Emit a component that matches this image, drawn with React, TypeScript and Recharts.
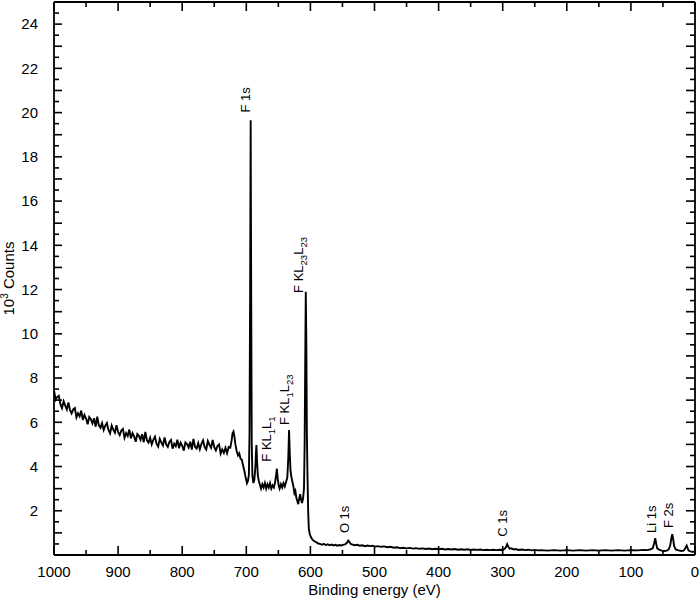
import { LineChart, Line, XAxis, YAxis, ReferenceDot, Label } from 'recharts'

// XPS survey spectrum: [binding energy (eV), 10^3 counts]
const backgroundHigh: [number, number][] = [
  [1000, 7.45], [997.5, 7.02], [995, 7.15], [992.5, 7.2], [990, 6.82], [987.5, 6.64], [985, 6.95], [982.5, 6.75],
  [980, 6.58], [977.5, 6.9], [975, 6.55], [972.5, 6.4], [970, 6.58], [967.5, 6.64], [965, 6.22], [962.5, 6.41],
  [960, 6.27], [957.5, 6.53], [955, 6.11], [952.5, 6.33], [950, 6.17], [947.5, 5.91], [945, 6.24], [942.5, 6.14],
  [940, 5.95], [937.5, 6.18], [935, 5.8], [932.5, 6.25], [930, 5.86], [927.5, 5.75], [925, 5.96], [922.5, 5.65],
  [920, 5.85], [917.5, 5.97], [915, 5.65], [912.5, 5.5], [910, 5.85], [907.5, 5.67], [905, 5.53], [902.5, 5.87],
  [900, 5.55], [897.5, 5.42], [895, 5.63], [892.5, 5.7], [890, 5.3], [887.5, 5.51], [885, 5.38], [882.5, 5.67],
  [880, 5.27], [877.5, 5.51], [875, 5.36], [872.5, 5.12], [870, 5.47], [867.5, 5.39], [865, 5.21], [862.5, 5.46],
  [860, 5.1], [857.5, 5.56], [855, 5.18], [852.5, 5.08], [850, 5.3], [847.5, 5.0], [845, 5.21], [842.5, 5.35],
  [840, 5.03], [837.5, 4.9], [835, 5.25], [832.5, 5.08], [830, 4.95], [827.5, 5.31], [825, 5.0], [822.5, 4.89],
  [820, 5.11], [817.5, 5.2], [815, 4.81], [812.5, 5.03], [810, 4.92], [807.5, 5.21], [805, 4.83], [802.5, 5.08],
  [800, 4.95], [797.5, 4.72], [795, 5.09], [792.5, 5.02], [790, 4.86], [787.5, 5.12], [785, 4.77], [782.5, 5.25],
  [780, 4.89], [777.5, 4.81], [775, 5.06], [772.5, 4.78], [770, 5.02], [767.5, 5.18], [765, 4.88], [762.5, 4.77],
  [760, 5.15], [757.5, 4.98], [755, 4.85], [752.5, 5.2], [750, 4.87], [747.5, 4.73], [745, 4.93], [742.5, 5.0],
  [740, 4.58], [737.5, 4.77], [735, 4.62], [732.5, 4.85], [730, 4.6], [727.5, 4.88],
]

const fluorineRegion: [number, number][] = [
  [725, 4.85], [723, 5.15], [721.5, 5.5], [720, 5.58], [718.5, 5.35], [717, 5.0], [715, 4.7], [713, 4.5],
  [711, 4.6], [709, 4.35], [707, 4.3], [705, 4.05], [703, 3.8], [701, 3.5], [699, 3.25], [697.5, 3.35],
  [696, 3.6], [695, 5.5], [694, 12], [693.2, 19.65], [692.4, 12], [691.5, 5], [690.5, 3.6], [689, 3.25],
  [687.5, 3.4], [686, 3.9], [685, 4.6], [684.2, 4.97], [683.3, 4.3], [682, 3.6], [680.5, 3.35], [679, 3.2],
  [677, 3.0], [675, 3.2], [673, 3.05], [671, 3.25], [669, 3.0], [667, 3.2], [665, 3.05], [663, 3.25],
  [661, 3.0], [659, 3.15], [657, 3.05], [655, 3.3], [653.5, 3.6], [652.3, 3.9], [651, 3.45], [649.5, 3.15],
  [648, 3.0], [646, 3.2], [644, 3.05], [642, 3.25], [640, 3.1], [638, 3.3], [636, 3.5], [634.5, 4.4],
  [633.3, 5.65], [632.2, 4.6], [631, 3.8], [629.5, 3.5], [628, 3.3], [626.5, 3.1], [625, 2.8], [623.5, 2.9],
  [622, 2.6], [620.5, 2.45], [619, 2.3], [617.5, 2.55], [616, 2.75], [614.5, 2.5], [613, 2.35], [611.5, 2.55],
  [610, 3.0], [609, 5], [608, 9], [607.2, 11.9], [606.3, 9.5], [605.5, 5.5], [604.5, 3.5], [603.5, 2.0],
  [602.5, 1.2], [601, 0.95], [599, 0.8], [597, 0.7], [594, 0.62], [591, 0.58], [588, 0.52],
]

const backgroundLow: [number, number][] = [
  [585, 0.5], [582, 0.46], [579, 0.5], [576, 0.45], [573, 0.48], [570, 0.44], [567, 0.47], [564, 0.43],
  [561, 0.46], [558, 0.42], [555, 0.45], [552, 0.43], [549, 0.46], [546, 0.48], [543, 0.55], [541, 0.65],
  [539, 0.58], [537, 0.5], [534, 0.47], [531, 0.44], [527, 0.46], [523, 0.42], [519, 0.44], [515, 0.4],
  [511, 0.43], [507, 0.4], [503, 0.42], [499, 0.38], [495, 0.4], [490, 0.37], [485, 0.39], [480, 0.35],
  [475, 0.37], [470, 0.33], [465, 0.35], [460, 0.31], [455, 0.33], [450, 0.3], [445, 0.32], [440, 0.29],
  [435, 0.31], [430, 0.28], [425, 0.3], [420, 0.27], [415, 0.29], [410, 0.26], [405, 0.28], [400, 0.26],
  [395, 0.28], [390, 0.25], [385, 0.27], [380, 0.25], [375, 0.27], [370, 0.24], [365, 0.26], [360, 0.24],
  [355, 0.26], [350, 0.23], [345, 0.25], [340, 0.23], [335, 0.25], [330, 0.22], [325, 0.24], [320, 0.22],
  [315, 0.24], [310, 0.22], [305, 0.24], [300, 0.23], [297, 0.28], [295, 0.35], [293, 0.49], [291, 0.36],
  [289, 0.28], [286, 0.3], [283, 0.25], [280, 0.27], [275, 0.23], [270, 0.25], [265, 0.22], [260, 0.24],
  [255, 0.21], [250, 0.23], [245, 0.21], [240, 0.22], [230, 0.2], [220, 0.22], [210, 0.2], [200, 0.22],
  [190, 0.2], [180, 0.22], [170, 0.2], [160, 0.22], [150, 0.2], [140, 0.22], [130, 0.2], [120, 0.22],
  [110, 0.2], [100, 0.22], [90, 0.21], [80, 0.23], [75, 0.22], [70, 0.25], [66, 0.3], [64, 0.5],
  [62, 0.76], [60.5, 0.5], [59, 0.3], [56, 0.24], [52, 0.2], [48, 0.18], [44, 0.2], [41, 0.25],
  [38.5, 0.45], [37, 0.75], [35.5, 0.94], [34, 0.7], [32.5, 0.4], [30, 0.25], [27, 0.22], [24, 0.2],
  [21, 0.18], [18, 0.2], [15.5, 0.28], [14, 0.38], [13, 0.43], [12, 0.35], [10, 0.2], [7, 0.16],
  [4, 0.14], [1, 0.15],
]

// peak annotations: text, energy of the label, counts at the bottom end of the label
// "_{..}" marks a subscript
const peakLabels: [string, number, number][] = [
  ['F 1s', 694, 20.0],
  ['F KL_{23}L_{23}', 612, 11.85],
  ['F KL_{1}L_{1}', 661, 4.22],
  ['F KL_{1}L_{23}', 633, 5.88],
  ['O 1s', 540, 0.99],
  ['C 1s', 292.5, 0.83],
  ['Li 1s', 61, 1.0],
  ['F 2s', 34.5, 1.22],
]

const energyTicks = [0, 50, 100, 150, 200, 250, 300, 350, 400, 450, 500, 550, 600, 650, 700, 750, 800, 850, 900, 950, 1000]
const countTicks = [
  0.5, 1, 1.5, 2, 2.5, 3, 3.5, 4, 4.5, 5, 5.5, 6, 6.5, 7, 7.5, 8, 8.5, 9, 9.5, 10, 10.5, 11, 11.5, 12, 12.5,
  13, 13.5, 14, 14.5, 15, 15.5, 16, 16.5, 17, 17.5, 18, 18.5, 19, 19.5, 20, 20.5, 21, 21.5, 22, 22.5, 23, 23.5,
  24, 24.5,
]
const countLabels = [2, 4, 6, 8, 10, 12, 14, 16, 18, 20, 22, 24]

const spectrum = [...backgroundHigh, ...fluorineRegion, ...backgroundLow].map(([ev, counts]) => ({ ev, counts }))

const FONT = '"Liberation Sans", Arial, Helvetica, sans-serif'

function BottomTick(props: any) {
  const { x, y, payload } = props
  const major = payload.value % 100 === 0
  return (
    <g>
      <line x1={x} x2={x} y1={y} y2={y - (major ? 9 : 5)} stroke="#000" strokeWidth={1.6} />
      {major && (
        <text x={x} y={y + 22} textAnchor="middle" fontSize={15} fontFamily={FONT} fill="#000">
          {payload.value}
        </text>
      )}
    </g>
  )
}

function TopTick(props: any) {
  const { x, y, payload } = props
  const major = payload.value % 100 === 0
  return <line x1={x} x2={x} y1={y} y2={y + (major ? 9 : 5)} stroke="#000" strokeWidth={1.6} />
}

function LeftTick(props: any) {
  const { x, y, payload } = props
  const whole = Number.isInteger(payload.value)
  return (
    <g>
      <line x1={x} x2={x + (whole ? 8 : 5)} y1={y} y2={y} stroke="#000" strokeWidth={1.6} />
      {countLabels.includes(payload.value) && (
        <text x={x - 16} y={y} dy="0.35em" textAnchor="end" fontSize={15} fontFamily={FONT} fill="#000">
          {payload.value}
        </text>
      )}
    </g>
  )
}

function RightTick(props: any) {
  const { x, y, payload } = props
  const whole = Number.isInteger(payload.value)
  return <line x1={x} x2={x - (whole ? 9 : 5)} y1={y} y2={y} stroke="#000" strokeWidth={1.6} />
}

function PeakText({ cx, cy, text }: { cx: number; cy: number; text: string }) {
  const parts = text.split(/(_\{[^}]+\})/).filter(Boolean)
  let shifted = false
  return (
    <g transform={`rotate(-90 ${cx} ${cy})`}>
      <text x={cx} y={cy} dy="0.35em" fontSize={13} fontFamily={FONT} fill="#000">
        {parts.map((p, i) => {
          if (p.startsWith('_{')) {
            shifted = true
            return (
              <tspan key={i} dy={4} fontSize={9.5}>
                {p.slice(2, -1)}
              </tspan>
            )
          }
          const dy = shifted ? -4 : 0
          shifted = false
          return (
            <tspan key={i} dy={dy}>
              {p}
            </tspan>
          )
        })}
      </text>
    </g>
  )
}

export default function App() {
  return (
    <div style={{ position: 'absolute', left: 0, top: 0 }}>
      <LineChart width={700} height={603} data={spectrum} margin={{ top: 1, right: 4, bottom: 0, left: 0 }}>
        <XAxis
          dataKey="ev"
          type="number"
          domain={[0, 1000]}
          reversed
          allowDataOverflow
          ticks={energyTicks}
          interval={0}
          height={48}
          tickSize={0}
          tickMargin={0}
          tickLine={false}
          tick={<BottomTick />}
          axisLine={{ stroke: '#000', strokeWidth: 1.8 }}
        >
          <Label
            content={(p: any) => (
              <text
                x={p.viewBox.x + p.viewBox.width / 2}
                y={p.viewBox.y + 40}
                textAnchor="middle"
                fontSize={15}
                fontFamily={FONT}
                fill="#000"
              >
                Binding energy (eV)
              </text>
            )}
          />
        </XAxis>
        <XAxis
          xAxisId="top"
          orientation="top"
          dataKey="ev"
          type="number"
          domain={[0, 1000]}
          reversed
          allowDataOverflow
          ticks={energyTicks}
          interval={0}
          height={1}
          tickSize={0}
          tickMargin={0}
          tickLine={false}
          tick={<TopTick />}
          axisLine={{ stroke: '#000', strokeWidth: 1.8 }}
        />
        <YAxis
          type="number"
          domain={[0, 25]}
          allowDataOverflow
          ticks={countTicks}
          interval={0}
          width={54}
          tickSize={0}
          tickMargin={0}
          tickLine={false}
          tick={<LeftTick />}
          axisLine={{ stroke: '#000', strokeWidth: 1.8 }}
        >
          <Label
            content={(p: any) => {
              const cx = p.viewBox.x + 9
              const cy = p.viewBox.y + p.viewBox.height / 2
              return (
                <text
                  x={cx}
                  y={cy}
                  dy="0.35em"
                  transform={`rotate(-90 ${cx} ${cy})`}
                  textAnchor="middle"
                  fontSize={15}
                  fontFamily={FONT}
                  fill="#000"
                >
                  10<tspan dy={-6} fontSize={10}>3</tspan>
                  <tspan dy={6}> Counts</tspan>
                </text>
              )
            }}
          />
        </YAxis>
        <YAxis
          yAxisId="right"
          orientation="right"
          type="number"
          domain={[0, 25]}
          allowDataOverflow
          ticks={countTicks}
          interval={0}
          width={1}
          tickSize={0}
          tickMargin={0}
          tickLine={false}
          tick={<RightTick />}
          axisLine={{ stroke: '#000', strokeWidth: 1.8 }}
        />
        <Line
          type="linear"
          dataKey="counts"
          stroke="#000"
          strokeWidth={1.9}
          dot={false}
          isAnimationActive={false}
        />
        {peakLabels.map(([text, ev, counts]) => (
          <ReferenceDot
            key={text}
            x={ev}
            y={counts}
            r={0}
            shape={(p: any) => <PeakText cx={p.cx} cy={p.cy} text={text} />}
          />
        ))}
      </LineChart>
    </div>
  )
}
